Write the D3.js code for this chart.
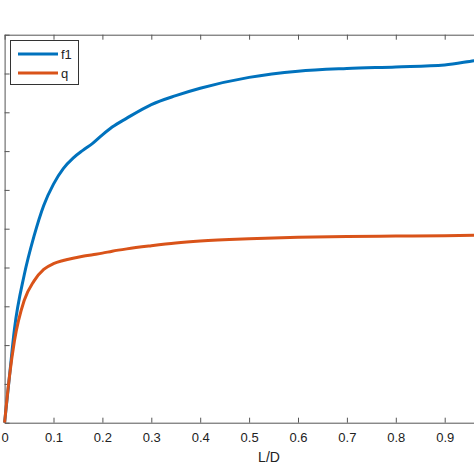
<!DOCTYPE html><html><head><script src="https://d3js.org/d3.v7.min.js"></script>
<style>body{margin:0;background:#fff}</style></head><body><script>
const xs = [0,0.01,0.02,0.04,0.06,0.08,0.1,0.12,0.14,0.16,0.18,0.2,0.22,0.25,0.3,0.35,0.4,0.5,0.6,0.7,0.8,0.9,0.96,1.0];
const f1 = [0,1.2,2.4,3.8,4.8,5.6,6.15,6.55,6.82,7.02,7.2,7.42,7.62,7.85,8.2,8.43,8.62,8.9,9.06,9.13,9.17,9.22,9.33,9.4];
const q  = [0,1.2,2.1,3.15,3.65,3.95,4.1,4.18,4.24,4.29,4.33,4.37,4.42,4.48,4.56,4.63,4.68,4.74,4.78,4.8,4.81,4.82,4.83,4.84];
const xTicks = [0,0.1,0.2,0.3,0.4,0.5,0.6,0.7,0.8,0.9,1];
const yTicks = d3.range(0,11);
const W=474,H=474;
const svg=d3.select("body").append("svg").attr("width",W).attr("height",H).style("font-family","Arial, Liberation Sans, sans-serif");
const x=d3.scaleLinear().domain([0,1]).range([4.6,4.6+489]);
const y=d3.scaleLinear().domain([0,10]).range([422.7,34.7]);
const g=svg.append("g");
const ax="#555";
g.append("g").attr("transform","translate(0,422.7)").call(d3.axisBottom(x).tickValues(xTicks).tickSizeInner(-5).tickSizeOuter(0).tickPadding(10).tickFormat(d=>d===0?"0":d===1?"":d3.format(".1f")(d)))
 .call(s=>{s.select(".domain").attr("stroke",ax);s.selectAll("line").attr("stroke",ax);s.selectAll("text").attr("font-size",13).attr("fill","#222");});
g.append("g").attr("transform","translate(0,34.7)").call(d3.axisTop(x).tickValues(xTicks).tickSizeInner(-5).tickSizeOuter(0).tickFormat(""))
 .call(s=>{s.select(".domain").attr("stroke",ax);s.selectAll("line").attr("stroke",ax);});
g.append("g").attr("transform","translate(4.6,0)").call(d3.axisLeft(y).tickValues(yTicks).tickSizeInner(-5).tickSizeOuter(0).tickFormat(""))
 .call(s=>{s.select(".domain").attr("stroke",ax);s.selectAll("line").attr("stroke",ax);});
const line=d3.line().x((d,i)=>x(xs[i])).y(d=>y(d)).curve(d3.curveMonotoneX);
svg.append("path").datum(f1).attr("d",line).attr("fill","none").attr("stroke","#0072BD").attr("stroke-width",3);
svg.append("path").datum(q).attr("d",line).attr("fill","none").attr("stroke","#D95319").attr("stroke-width",3);
svg.append("text").attr("x",269).attr("y",462).attr("text-anchor","middle").attr("font-size",14).attr("fill","#222").text("L/D");
const lg=svg.append("g");
lg.append("rect").attr("x",10.5).attr("y",40.5).attr("width",68).attr("height",44).attr("fill","#fff").attr("stroke","#333");
[["f1","#0072BD",54],["q","#D95319",73]].forEach(([t,c,yy])=>{
 lg.append("line").attr("x1",18).attr("x2",58).attr("y1",yy).attr("y2",yy).attr("stroke",c).attr("stroke-width",3);
 lg.append("text").attr("x",61).attr("y",yy+5).attr("font-size",13).attr("fill","#222").text(t);
});
</script></body></html>
